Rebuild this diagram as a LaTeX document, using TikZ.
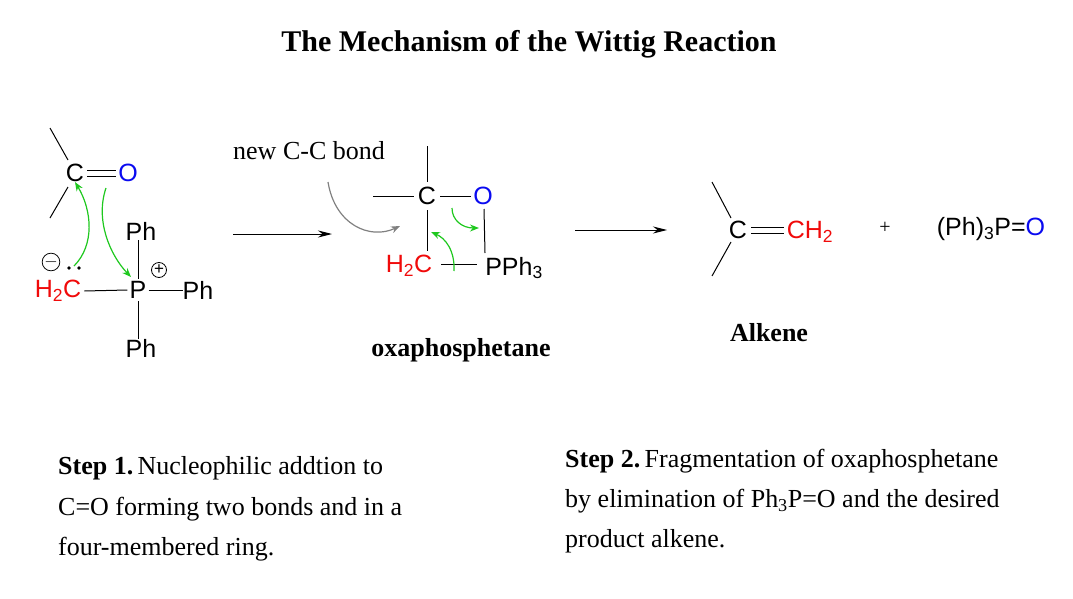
\documentclass[tikz,border=0pt]{standalone}
\usepackage{fontspec}
\setmainfont{Liberation Serif}
\newfontfamily\chem{Liberation Sans}
\usetikzlibrary{arrows.meta}
\definecolor{gr}{RGB}{30,200,30}
\definecolor{bl}{RGB}{10,10,240}
\definecolor{rd}{RGB}{240,10,10}
\newcommand{\sub}[1]{\textsubscript{#1}}
\begin{document}
\begin{tikzpicture}[x=1pt,y=-1pt,
 ch/.style={font=\chem\fontsize{25}{28}\selectfont,inner sep=0pt},
 tx/.style={font=\fontsize{26}{28}\selectfont,inner sep=0pt,anchor=west},
 bd/.style={line width=1pt},
 ga/.style={gr,line width=1.2pt,-{Stealth[length=9pt,width=7pt]}},
 rx/.style={line width=1pt,-{Stealth[length=14pt,width=7pt]}}]
\useasboundingbox (0,0) rectangle (1073,599);
\node[font=\bfseries\fontsize{30}{32}\selectfont] (title) at (529,44) {The Mechanism of the Wittig Reaction};
% left
\node[ch] (c1) at (75,173) {C};
\node[ch,bl] (o1) at (128,173) {O};
\coordinate (m1) at (50,128); \coordinate (m2) at (50,218);
\draw[bd] (m1) -- (68,160); \draw[bd] (m2) -- (68,187);
\draw[bd] (87,170) -- (116,170); \draw[bd] (87,176) -- (116,176);
\node[ch] (p1) at (138,290) {P};
\node[ch,rd] (hc1) at (58,291) {H\sub{2}C};
\node[ch] (pht) at (141,231) {Ph};
\node[ch] (phr) at (198,290) {Ph};
\node[ch] (phb) at (141,348) {Ph};
\draw[bd] (pht.south -| p1) -- ([yshift=2pt]p1.north);
\draw[bd] (phb.north -| p1) -- ([yshift=-2pt]p1.south);
\draw[bd] ([xshift=2pt]p1.east) -- (phr.west);
\draw[bd] ([xshift=3pt]hc1.east) -- ([xshift=-2pt]p1.west);
\node[circle,draw,line width=0.8pt,inner sep=0pt,minimum size=15pt,font=\chem\fontsize{17}{17}\selectfont] (plus) at (159,270) {+};
\node[circle,draw,line width=0.8pt,inner sep=0pt,minimum size=15pt,font=\chem\fontsize{17}{17}\selectfont] (minus) at (51,262) {$-$};
\fill (69,268) circle (1.9) (79,268) circle (1.9);
\draw[ga] (74,266) .. controls (95,245) and (92,210) .. (c1.south);
\draw[ga] (106,188) .. controls (95,220) and (110,255) .. (131,277);
% arrow 1
\coordinate (a1s) at (233,234); \coordinate (a1e) at (332,234);
\draw[rx] (a1s) -- (a1e);
\node[tx] (ncc) at (233,151) {new C-C bond};
% middle
\node[ch] (c2) at (427,196) {C};
\node[ch,bl] (o2) at (483,196) {O};
\node[ch,rd] (hc2) at (409,266) {H\sub{2}C};
\node[ch] (p2) at (514,268) {PPh\sub{3}};
\draw[bd] (427,146) -- (427,182);
\draw[bd] (373,196) -- (414,196);
\draw[bd] (440,196) -- (471,196);
\draw[bd] (427,210) -- (427,251);
\draw[bd] (484,209) -- (485,253);
\draw[bd] (441,264) -- (477,264);
\draw[gray,line width=1.2pt,-{Stealth[length=9pt,width=7pt]}] (328,182) .. controls (335,225) and (370,240) .. (400,226);
\draw[ga] (454,271) .. controls (455,250) and (445,238) .. (431,232);
\draw[ga] (452,208) .. controls (452,220) and (462,228) .. (479,228);
\node[font=\bfseries\fontsize{26}{28}\selectfont] (oxa) at (461,350) {oxaphosphetane};
% arrow 2
\coordinate (a2s) at (575,230); \coordinate (a2e) at (667,230);
\draw[rx] (a2s) -- (a2e);
% alkene
\node[ch] (c3) at (738,230) {C};
\node[ch,rd] (ch2) at (810,232) {CH\sub{2}};
\draw[bd] (712,182) -- (731,218); \draw[bd] (712,276) -- (731,242);
\draw[bd] (751,227) -- (784,227); \draw[bd] (751,233) -- (784,233);
\node[font=\fontsize{20}{22}\selectfont] (pl) at (885,228) {+};
\node[ch] (ph3po) at (991,229) {(Ph)\sub{3}P=\textcolor{bl}{O}};
\node[font=\bfseries\fontsize{26}{28}\selectfont] (alk) at (769,333) {Alkene};
% steps
\node[tx] (s1a) at (58,468) {\textbf{Step 1.}\,Nucleophilic addtion to};
\node[tx] (s1b) at (58,509) {C=O forming two bonds and in a};
\node[tx] (s1c) at (58,549) {four-membered ring.};
\node[tx] (s2a) at (565,461) {\textbf{Step 2.}\,Fragmentation of oxaphosphetane};
\node[tx] (s2b) at (565,501) {by elimination of Ph\sub{3}P=O and the desired};
\node[tx] (s2c) at (565,541) {product alkene.};
\end{tikzpicture}
\end{document}
